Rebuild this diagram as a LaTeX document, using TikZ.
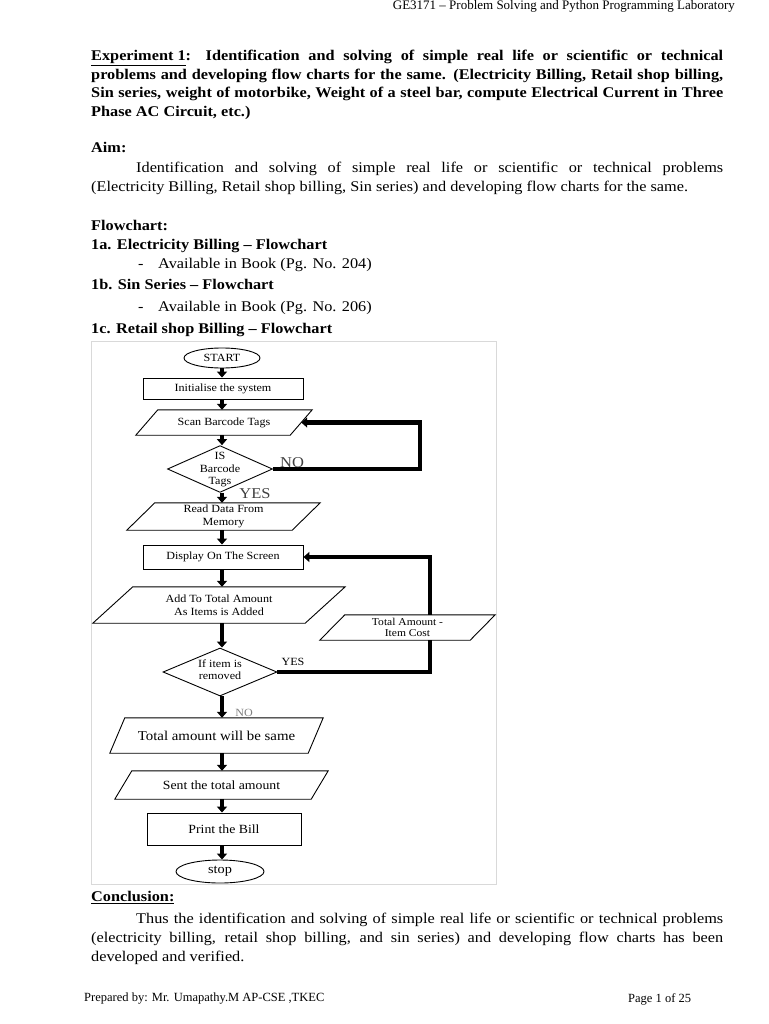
\documentclass[tikz,border=0pt]{standalone}
\usepackage{fontspec}
\setmainfont{Liberation Serif}[FakeStretch=1.1]
\newfontfamily\plainserif{Liberation Serif}
\usepackage{tikz}
\usetikzlibrary{positioning,arrows.meta,shapes.geometric,calc}

\newcommand{\bodyfont}{\fontsize{14.8}{19}\selectfont}
\newcommand{\chartfont}{\fontsize{11}{12.5}\selectfont}
\newcommand{\fullline}[1]{\makebox[632pt][s]{#1}}
\newcommand{\indline}[1]{\hspace*{45pt}\makebox[587pt][s]{#1}}
\newcommand{\decText}[2][3.5pt]{\raisebox{-#1}{\smash{\begin{tabular}{@{}c@{}}#2\end{tabular}}}}

\tikzset{
  para/.style={anchor=base west,inner sep=0pt,font=\bodyfont},
  flowbox/.style={draw,line width=0.9pt,minimum width=160pt,minimum height=22pt,inner sep=0pt,font=\chartfont},
  iobox/.style={inner sep=0pt,font=\chartfont,align=center},
  termbox/.style={draw,ellipse,line width=0.9pt,inner sep=0pt,font=\chartfont},
  decbox/.style={draw,diamond,line width=0.9pt,inner sep=0pt,font=\chartfont},
  flow/.style={line width=4.5pt,-{Triangle[width=10pt,length=6pt]}},
  loopline/.style={line width=4.5pt}
}

\begin{document}
\begin{tikzpicture}[x=1pt,y=-1pt]
  \useasboundingbox (0,0) rectangle (768,1024);

  % page text
  \node[anchor=base east,inner sep=0pt,font=\plainserif\fontsize{13}{13}\selectfont] (head) at (735,10) {GE3171 – Problem Solving and Python Programming Laboratory};
  \node[para,font=\bodyfont\bfseries] (exp1) at (91,60.5) {\fullline{\underline{Experiment 1}: Identification and solving of simple real life or scientific or technical}};
  \node[para,font=\bodyfont\bfseries] (exp2) at (91,79.2) {\fullline{problems and developing flow charts for the same. (Electricity Billing, Retail shop billing,}};
  \node[para,font=\bodyfont\bfseries] (exp3) at (91,97.9) {\fullline{Sin series, weight of motorbike, Weight of a steel bar, compute Electrical Current in Three}};
  \node[para,font=\bodyfont\bfseries] (exp4) at (91,116.6) {Phase AC Circuit, etc.)};
  \node[para,font=\bodyfont\bfseries] (aim) at (91,153) {Aim:};
  \node[para] (aim1) at (91,172.7) {\indline{Identification and solving of simple real life or scientific or technical problems}};
  \node[para] (aim2) at (91,191.7) {(Electricity Billing, Retail shop billing, Sin series) and developing flow charts for the same.};
  \node[para,font=\bodyfont\bfseries] (fc) at (91,230.7) {Flowchart:};
  \node[para,font=\bodyfont\bfseries] (fc1a) at (91,249.3) {1a. Electricity Billing – Flowchart};
  \node[para] (dash1) at (138,268.3) {-};
  \node[para] (book1) at (158,268.3) {Available in Book (Pg. No. 204)};
  \node[para,font=\bodyfont\bfseries] (fc1b) at (91,289.3) {1b. Sin Series – Flowchart};
  \node[para] (dash2) at (138,311) {-};
  \node[para] (book2) at (158,311) {Available in Book (Pg. No. 206)};
  \node[para,font=\bodyfont\bfseries] (fc1c) at (91,333.5) {1c. Retail shop Billing – Flowchart};

  % flowchart
  \draw[black!15,line width=0.8pt] (91,341) rectangle (496,884);
  \coordinate (col) at (222,0);
  \node[termbox,minimum width=76pt,minimum height=20pt] (start) at (222,358) {START};
  \node[flowbox,minimum height=21pt] (init) at (223,388.5) {Initialise the system};
  \node[iobox,minimum width=176pt,minimum height=25pt] (scan) at (224,422.5) {Scan Barcode Tags};
  \node[decbox,minimum width=105pt,minimum height=38pt] (isbar) at (220,469) {\decText[6.5pt]{IS\\Barcode\\Tags}};
  \node[iobox,minimum width=193pt,minimum height=27pt] (read) at (223.5,516.5) {Read Data From\\Memory};
  \node[flowbox,minimum height=24pt] (disp) at (223,557) {Display On The Screen};
  \node[iobox,minimum width=252pt,minimum height=36pt] (add) at (219,605) {Add To Total Amount\\As Items is Added};
  \node[iobox,minimum width=175pt,minimum height=25pt,font=\fontsize{10.5}{11}\selectfont] (cost) at (407.5,627.5) {Total Amount -\\Item Cost};
  \node[decbox,minimum width=114pt,minimum height=48pt] (chk) at (220,672) {\decText{If item is\\removed}};
  \node[iobox,minimum width=213pt,minimum height=35pt,font=\fontsize{13.5}{15}\selectfont] (same) at (216.5,735.5) {Total amount will be same};
  \node[iobox,minimum width=213pt,minimum height=28pt,font=\fontsize{12.5}{14}\selectfont] (sent) at (221.5,785) {Sent the total amount};
  \node[flowbox,minimum width=154pt,minimum height=32pt,font=\fontsize{12.5}{14}\selectfont] (bill) at (224,829) {Print the Bill};
  \node[termbox,minimum width=88pt,minimum height=23pt,font=\fontsize{13}{14}\selectfont] (stop) at (220,871.5) {stop};

  % slanted outlines of the input/output boxes
  \foreach \n/\s in {scan/22,read/28,add/40,cost/25,same/15,sent/17}
    \draw[line width=0.9pt] ([xshift=\s]\n.north west) -- (\n.north east) -- ([xshift=-\s]\n.south east) -- (\n.south west) -- cycle;

  \foreach \a/\b in {start/init,init/scan,scan/isbar,isbar/read,read/disp,disp/add,add/chk,chk/same,same/sent,sent/bill,bill/stop}
    \draw[flow] (\a.south -| col) -- (\b.north -| col);

  \draw[loopline,-{Triangle[width=10pt,length=6pt]}] (isbar.east) -- ++(147,0) |- ([xshift=-11]scan.east);
  \draw[loopline] (chk.east) -| ([xshift=22.5]cost.south);
  \draw[flow] ([xshift=22.5]cost.north) |- (disp.east);

  \node[font=\fontsize{15}{15}\selectfont,text=black!75,inner sep=0pt] (no1) at (292,463) {NO};
  \node[font=\fontsize{15}{15}\selectfont,text=black!75,inner sep=0pt] (yes1) at (255,494) {YES};
  \node[font=\chartfont,inner sep=0pt] (yes2) at (293,662) {YES};
  \node[font=\chartfont,text=black!50,inner sep=0pt] (no2) at (244,713) {NO};

  % closing text
  \node[para,font=\bodyfont\bfseries] (concl) at (91,901.7) {\underline{Conclusion:}};
  \node[para] (con1) at (91,923.3) {\indline{Thus the identification and solving of simple real life or scientific or technical problems}};
  \node[para] (con2) at (91,942.6) {\fullline{(electricity billing, retail shop billing, and sin series) and developing flow charts has been}};
  \node[para] (con3) at (91,961.9) {developed and verified.};
  \node[para,font=\plainserif\fontsize{12.5}{14}\selectfont] (prep) at (84,1001.5) {Prepared by: Mr. Umapathy.M AP-CSE ,TKEC};
  \node[para,font=\plainserif\fontsize{12.5}{14}\selectfont] (page) at (628,1002) {Page 1 of 25};
\end{tikzpicture}
\end{document}
